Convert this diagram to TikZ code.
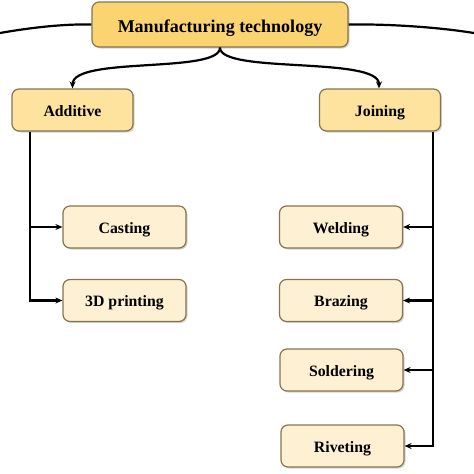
\documentclass[tikz,border=0pt]{standalone}
\usepackage{fontspec}
\setmainfont{Liberation Serif}
\usetikzlibrary{arrows.meta,shadows}

\definecolor{topfill}{HTML}{FAD470}
\definecolor{midfill}{HTML}{FDE39E}
\definecolor{leaffill}{HTML}{FEF0D2}
\definecolor{boxline}{HTML}{857550}

\begin{document}
\begin{tikzpicture}[
        x=1pt, y=-1pt, % pixel like units
        > = {Stealth[length=7pt,width=6pt]}, % arrow head style
        line width=2.2pt, % line style
        font=\bfseries
      ]

      \tikzstyle{box}=[rectangle,rounded corners=7pt,draw=boxline,line width=1.2pt,
        inner sep=0pt,text height=13.5pt,text depth=1pt,
        drop shadow={shadow xshift=1.5pt,shadow yshift=-1.5pt,opacity=0.35}]
      \tikzstyle{top}=[box,fill=topfill,minimum width=256pt,minimum height=45pt,
        text height=16pt,font=\bfseries\fontsize{18}{20}\selectfont]
      \tikzstyle{mid}=[box,fill=midfill,minimum width=121pt,minimum height=42pt,
        font=\bfseries\fontsize{15.8}{18}\selectfont]
      \tikzstyle{leaf}=[box,fill=leaffill,minimum width=123pt,minimum height=42pt,
        font=\bfseries\fontsize{15.8}{18}\selectfont]

      \useasboundingbox (0,0) rectangle (474,474);

      \node[top] (mt) at (220,24.5) {Manufacturing technology};
      \node[mid] (add) at (72.5,110) {Additive};
      \node[mid] (join) at (380,110) {Joining};
      \node[leaf] (cast) at (124.5,227) {Casting};
      \node[leaf] (print) at (124.5,300.5) {3D printing};
      \node[leaf] (weld) at (341,227) {Welding};
      \node[leaf] (braz) at (341,300.5) {Brazing};
      \node[leaf] (sold) at (341.5,370) {Soldering};
      \node[leaf] (rivet) at (342.5,446) {Riveting};

      \coordinate (ledge) at (0,33);
      \coordinate (redge) at (474,33);
      \coordinate (lbus) at (30,0);
      \coordinate (rbus) at (433,0);

      % lines out of the picture
      \draw (ledge) .. controls (40,26) and (70,24) .. (mt.west);
      \draw (mt.east) .. controls (380,24) and (430,26) .. (redge);

      % top to second level
      \draw[->] (mt.south) .. controls (220,74) and (73,56) .. (add.north);
      \draw[->] (mt.south) .. controls (220,74) and (379,56) .. (join.north -| 379,0);

      % additive branch
      \draw[->] (add.south -| lbus) |- (print.west);
      \draw[->] (cast.west -| lbus) -- (cast.west);

      % joining branch
      \draw[->] (join.south -| rbus) |- (rivet.east);
      \draw[->] (weld.east -| rbus) -- (weld.east);
      \draw[->] (braz.east -| rbus) -- (braz.east);
      \draw[->] (sold.east -| rbus) -- (sold.east);

    \end{tikzpicture}
\end{document}
